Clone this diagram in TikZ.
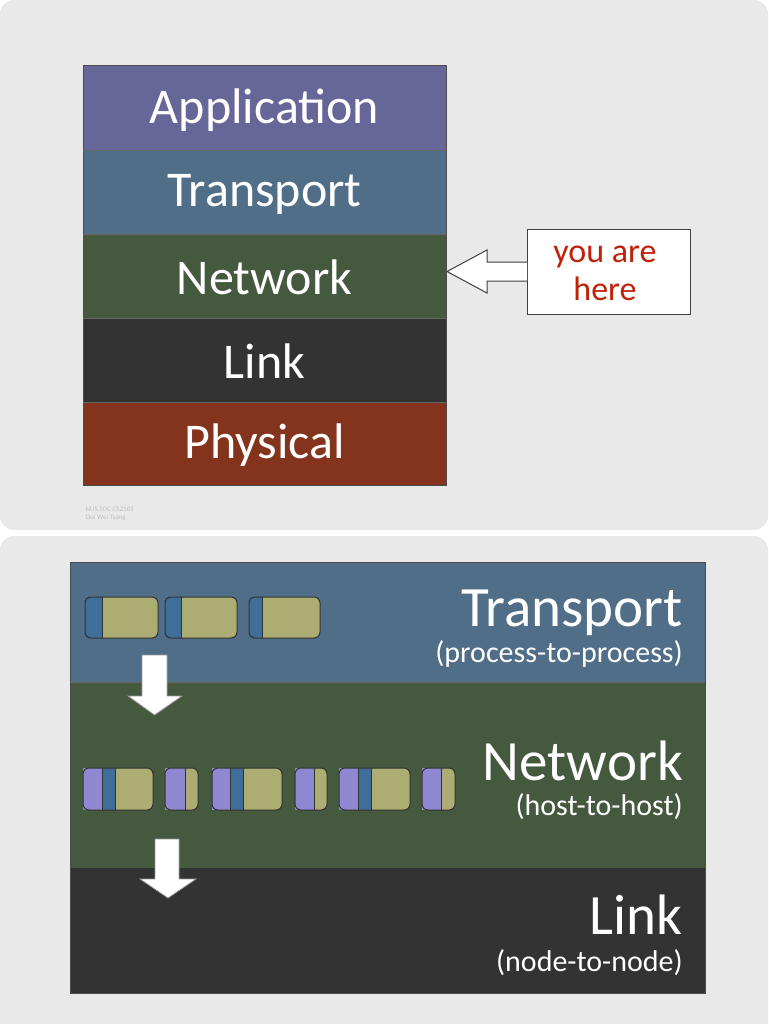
\documentclass[tikz,border=0pt]{standalone}
\usepackage{fontspec}
\setmainfont{Carlito}
\begin{document}
\begin{tikzpicture}[x=1pt,y=-1pt,
  layer/.style={draw=black!70,line width=1pt},
  ltext/.style={text=white,font=\fontsize{50}{50}\selectfont},
  big/.style={text=white,anchor=base east,inner sep=0pt,font=\fontsize{57}{57}\selectfont},
  small/.style={text=white,anchor=base east,inner sep=0pt,font=\fontsize{30}{30}\selectfont},
  pkt/.style={draw=black!80,line width=1pt},
  darr/.style={fill=white,draw=black!40,line width=0.8pt}]
\definecolor{app}{HTML}{676699}\definecolor{tra}{HTML}{506E87}
\definecolor{net}{HTML}{45593F}\definecolor{lnk}{HTML}{333333}
\definecolor{phy}{HTML}{84341D}\definecolor{yel}{HTML}{ABAD72}
\definecolor{hb}{HTML}{3F6E9A}\definecolor{pu}{HTML}{8E88D2}
\definecolor{slide}{HTML}{E9E9E9}\definecolor{you}{HTML}{C0210A}
\useasboundingbox (0,0) rectangle (768,1024);
\fill[white] (0,0) rectangle (768,1024);
\fill[slide,rounded corners=14pt] (0,0) rectangle (768,530);
\fill[slide,rounded corners=14pt] (0,536) rectangle (768,1040);
% top stack
\fill[app] (83,66) rectangle (446,150);
\fill[tra] (83,150) rectangle (446,234);
\fill[net] (83,234) rectangle (446,318);
\fill[lnk] (83,318) rectangle (446,402);
\fill[phy] (83,402) rectangle (446,485);
\draw[layer] (83,66) rectangle (446,485);
\foreach \y in {150,234,318,402} \draw[black!60] (83,\y) -- (446,\y);
\node[ltext] (app) at (264.5,110) {Application};
\node[ltext] (tra) at (264.5,194) {Transport};
\node[ltext] (net) at (264.5,277) {Network};
\node[ltext] (lnk) at (264.5,361) {Link};
\node[ltext] (phy) at (264.5,445) {Physical};
% callout
\draw[fill=white,draw=black!75,line width=1pt] (527,230) rectangle (690,314);
\draw[fill=white,draw=black!75,line width=1pt] (527,262) -- (487,262) -- (487,250) -- (447,271.5) -- (487,293) -- (487,281) -- (527,281);
\node[text=you,align=center,font=\fontsize{34}{38}\selectfont] (you) at (605,273) {you are\\ here};
\node[text=black!25,align=left,anchor=north west,font=\fontsize{7}{8}\selectfont] (foot) at (82,503) {NUS.SOC.CS2105\\Ooi Wei Tsang};
% bottom
\fill[tra] (70,562) rectangle (705,682);
\fill[net] (70,682) rectangle (705,868);
\fill[lnk] (70,868) rectangle (705,993);
\draw[layer] (70,562) rectangle (705,993);
\draw[black!60] (70,682) -- (705,682);
\node[big] (t2) at (683,626) {Transport};
\node[small] (t2s) at (683,662) {(process-to-process)};
\node[big] (n2) at (683,780) {Network};
\node[small] (n2s) at (683,815) {(host-to-host)};
\node[big] (l2) at (683,934) {Link};
\node[small] (l2s) at (683,971) {(node-to-node)};
% transport packets
\foreach \a/\b/\c in {85/102/158,165/181/237,249/262/320}{
  \fill[yel,rounded corners=6pt] (\b-3,597) rectangle (\c,638);
  \fill[hb] (\a,597) rectangle (\b,638);
  \draw[pkt,rounded corners=6pt] (\a,597) -- (\c,597) -- (\c,638) -- (\a,638) -- cycle;
  \draw[pkt] (\b,597) -- (\b,638);}
% network packets
\foreach \a/\p/\b/\c in {83/102/115/153,212/230/243/282,339/358/371/410}{
  \fill[yel,rounded corners=6pt] (\b-3,768) rectangle (\c,810);
  \fill[pu] (\a,768) rectangle (\p,810);
  \fill[hb] (\p,768) rectangle (\b,810);
  \draw[pkt,rounded corners=6pt] (\a,768) -- (\c,768) -- (\c,810) -- (\a,810) -- cycle;
  \draw[pkt] (\p,768) -- (\p,810) (\b,768) -- (\b,810);}
\foreach \a/\p/\c in {165/185/198,295/314/327,422/441/455}{
  \fill[yel,rounded corners=6pt] (\p-3,768) rectangle (\c,810);
  \fill[pu] (\a,768) rectangle (\p,810);
  \draw[pkt,rounded corners=6pt] (\a,768) -- (\c,768) -- (\c,810) -- (\a,810) -- cycle;
  \draw[pkt] (\p,768) -- (\p,810);}
% down arrows
\draw[darr] (142,655) -- (167,655) -- (167,696) -- (182,696) -- (154.5,715) -- (128,696) -- (142,696) -- cycle;
\draw[darr] (155,839) -- (179,839) -- (179,879) -- (196,879) -- (168,898) -- (140,879) -- (155,879) -- cycle;
\end{tikzpicture}
\end{document}
